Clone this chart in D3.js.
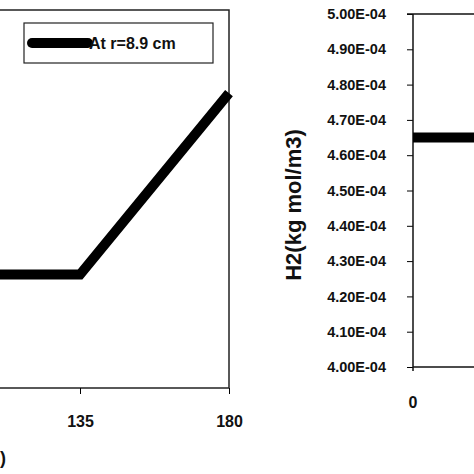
<!DOCTYPE html>
<html><head><meta charset="utf-8">
<script src="https://cdn.jsdelivr.net/npm/d3@7"></script>
<style>body{margin:0;background:#fff}text{font-family:Arial,"Liberation Sans",sans-serif;font-weight:bold;fill:#111}</style>
</head><body>
<script>
//left panel data: angle vs concentration
var angles = [0, 45, 90, 135, 180];
var leftValues = [4.30e-4, 4.30e-4, 4.30e-4, 4.30e-4, 4.78e-4];
var leftTicks = [135, 180];
//right panel data
var rightAngles = [0, 180];
var rightValues = [4.65e-4, 4.65e-4];
var rightTicks = [4.0e-4, 4.1e-4, 4.2e-4, 4.3e-4, 4.4e-4, 4.5e-4, 4.6e-4, 4.7e-4, 4.8e-4, 4.9e-4, 5.0e-4];

var svg = d3.select("body").append("svg").attr("width", 474).attr("height", 474);

//left panel
var xL = d3.scaleLinear().domain([135, 180]).range([80, 229]);
var yL = d3.scaleLinear().domain([4.0e-4, 5.0e-4]).range([388, 10]);
var gL = svg.append("g");
gL.append("rect").attr("x", xL(0)).attr("y", 10).attr("width", xL(180) - xL(0)).attr("height", 378)
    .style("fill", "none").style("stroke", "#222").style("stroke-width", 1.5);
var ax = gL.append("g").attr("transform", "translate(0,388)")
    .call(d3.axisBottom(xL).tickValues(leftTicks).tickSize(6).tickPadding(22));
ax.select(".domain").remove();
ax.selectAll("text").style("font-size", "16px");
gL.append("path").datum(angles.map(function(a, i){ return [a, leftValues[i]]; }))
    .attr("d", d3.line().x(function(d){ return xL(d[0]); }).y(function(d){ return yL(d[1]); }))
    .style("fill", "none").style("stroke", "#000").style("stroke-width", 10);
gL.append("text").attr("x", 6).attr("y", 464).attr("text-anchor", "end").style("font-size", "18px").text("Angle (degree)");
//legend
gL.append("rect").attr("x", 24).attr("y", 23).attr("width", 189).attr("height", 40)
    .style("fill", "#fff").style("stroke", "#222").style("stroke-width", 1.2);
gL.append("line").attr("x1", 32).attr("x2", 88).attr("y1", 43).attr("y2", 43)
    .style("stroke", "#000").style("stroke-width", 10).style("stroke-linecap", "round");
gL.append("text").attr("x", 89).attr("y", 49).style("font-size", "16px").text("At r=8.9 cm");

//right panel
var xR = d3.scaleLinear().domain([0, 180]).range([413, 700]);
var yR = d3.scaleLinear().domain([4.0e-4, 5.0e-4]).range([367, 14]);
var gR = svg.append("g");
var ay = gR.append("g").attr("transform", "translate(413,0)")
    .call(d3.axisLeft(yR).tickValues(rightTicks).tickSize(6).tickPadding(21)
        .tickFormat(function(d){ return d.toExponential(2).toUpperCase().replace("E-4", "E-04"); }));
ay.select(".domain").remove();
ay.selectAll("text").style("font-size", "14.5px");
gR.append("line").attr("x1", 413).attr("x2", 413).attr("y1", 14).attr("y2", 371).style("stroke", "#111").style("stroke-width", 1.5);
gR.append("line").attr("x1", 407).attr("x2", 474).attr("y1", 14).attr("y2", 14).style("stroke", "#111").style("stroke-width", 1.5);
gR.append("line").attr("x1", 413).attr("x2", 474).attr("y1", 367).attr("y2", 367).style("stroke", "#111").style("stroke-width", 1.5);
gR.append("path").datum(rightAngles.map(function(a, i){ return [a, rightValues[i]]; }))
    .attr("d", d3.line().x(function(d){ return xR(d[0]); }).y(function(d){ return yR(d[1]); }))
    .style("fill", "none").style("stroke", "#000").style("stroke-width", 10);
gR.append("text").attr("x", xR(0)).attr("y", 408).attr("text-anchor", "middle").style("font-size", "16px").text("0");
gR.append("text").attr("transform", "translate(301,205) rotate(-90)").attr("text-anchor", "middle")
    .style("font-size", "22px").text("H2(kg mol/m3)");
</script>
</body></html>
